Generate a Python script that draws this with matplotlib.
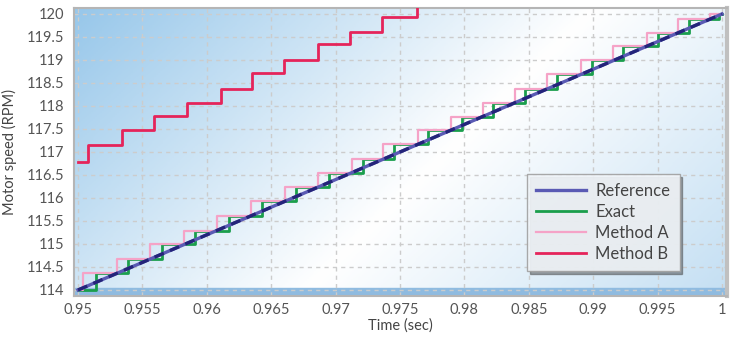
import numpy as np
import matplotlib
matplotlib.use("Agg")
import matplotlib.pyplot as plt
from matplotlib.colors import LinearSegmentedColormap
from matplotlib.patches import Rectangle

plt.rcParams['font.family'] = ['Lato', 'DejaVu Sans']

# Reference ramp
ref_t = [0.95, 1.0]
ref_v = [114.0, 120.0]

# Method A: sample-and-hold steps (step instants and held levels)
a_t = [0.95, 0.95039, 0.95303, 0.95559, 0.95823, 0.96079, 0.96343, 0.96607,
       0.96863, 0.97127, 0.97368, 0.97640, 0.97896, 0.98144, 0.98393,
       0.98641, 0.98905, 0.99154, 0.99418, 0.99658, 0.99907, 1.0]
a_v = [114.0, 114.36, 114.67, 114.99, 115.29, 115.61, 115.93, 116.24,
       116.55, 116.84, 117.17, 117.48, 117.77, 118.07, 118.37, 118.69,
       118.99, 119.30, 119.59, 119.89, 120.0, 120.0]

# Exact: same levels, switched slightly later
ex_t = [0.95, 0.9514, 0.9539, 0.9565, 0.9591, 0.9617, 0.9643, 0.9669,
        0.9695, 0.9721, 0.9745, 0.9772, 0.9798, 0.9822, 0.9847, 0.9872,
        0.9899, 0.9923, 0.9950, 0.9974, 0.9998, 1.0]
ex_v = [114.0, 114.36, 114.67, 114.99, 115.29, 115.61, 115.93, 116.24,
        116.55, 116.84, 117.17, 117.48, 117.77, 118.07, 118.37, 118.69,
        118.99, 119.30, 119.59, 119.89, 120.0, 120.0]

# Method B: offset steps
b_t = [0.95, 0.9508, 0.9534, 0.9559, 0.9585, 0.9611, 0.9635, 0.9660,
       0.9686, 0.9711, 0.9736, 0.9763]
b_v = [116.78, 117.15, 117.48, 117.78, 118.07, 118.37, 118.72, 119.0,
       119.35, 119.6, 119.93, 120.4]

xticks = [0.95, 0.955, 0.96, 0.965, 0.97, 0.975, 0.98, 0.985, 0.99, 0.995, 1.0]
xlabels = ['0.95', '0.955', '0.96', '0.965', '0.97', '0.975', '0.98', '0.985',
           '0.99', '0.995', '1']
yticks = [114, 114.5, 115, 115.5, 116, 116.5, 117, 117.5, 118, 118.5, 119, 119.5, 120]
ylabels = ['114', '114.5', '115', '115.5', '116', '116.5', '117', '117.5',
           '118', '118.5', '119', '119.5', '120']

W, H = 746, 338
fig = plt.figure(figsize=(W / 100, H / 100), dpi=100)
ax = fig.add_axes([74 / W, (H - 296) / H, (727 - 74) / W, (296 - 8) / H])

x0 = 0.95 - 4 / 12880
x1 = 1.0 + 5 / 12880
y0 = 114 - 6 / 46
y1 = 120 + 282 / 46 - 6
ax.set_xlim(x0, x1)
ax.set_ylim(y0, y1)

# background gradient
cmap = LinearSegmentedColormap.from_list(
    'bg', [(0.0, '#97c7ea'), (0.55, '#ffffff'), (1.0, '#c4dff3')])
u, v = np.meshgrid(np.linspace(0, 1, 300), np.linspace(1, 0, 150))
s = (u * 1.0 + (1 - v) * 0.45) / 1.45
ax.imshow(s, cmap=cmap, extent=[x0, x1, y0, y1], aspect='auto', zorder=0,
          vmin=0, vmax=1)
ax.add_patch(Rectangle((0, 0), 1, 8 / 288, transform=ax.transAxes,
                       color='#8fbbe0', zorder=0.5))

ax.set_xticks(xticks)
ax.set_xticklabels(xlabels)
ax.set_yticks(yticks)
ax.set_yticklabels(ylabels)
ax.tick_params(length=0, labelsize=10.5, labelcolor='#555555')
ax.tick_params(axis='y', pad=7)
ax.tick_params(axis='x', pad=5)
ax.grid(True, color='#cccccc', linestyle=(0, (3, 3)), linewidth=1.0, zorder=1)

ax.step(ex_t, ex_v, where='post', color='#1a9e4c', lw=2.0, zorder=3, label='Exact')
ax.step(a_t, a_v, where='post', color='#f5a3c7', lw=1.6, zorder=4, label='Method A')
ax.step(b_t, b_v, where='post', color='#e5245a', lw=2.0, zorder=4, label='Method B')
ax.plot(ref_t, ref_v, color='#5a5ab4', lw=2.4, zorder=5, label='Reference')
ax.plot(ref_t, ref_v, color='#24247a', lw=2.4, zorder=6, linestyle=(0, (3, 2)))

handles, labels = ax.get_legend_handles_labels()
order = [labels.index(n) for n in ['Reference', 'Exact', 'Method A', 'Method B']]
leg = ax.legend([handles[i] for i in order], [labels[i] for i in order],
                loc='upper left', bbox_to_anchor=(453 / 653, (296 - 174) / 288),
                prop={'size': 12}, frameon=True, fancybox=False, shadow=True,
                handlelength=3.0, handletextpad=0.55, labelspacing=0.3,
                borderpad=0.55, borderaxespad=0)
leg.get_frame().set_edgecolor('#a0a0a0')
leg.get_frame().set_facecolor('#f2f6fa')
leg.get_frame().set_alpha(0.9)
for t in leg.get_texts():
    t.set_color('#444444')
leg.set_zorder(10)

for side in ['top', 'left', 'bottom']:
    ax.spines[side].set_color('#b5b5b5')
    ax.spines[side].set_linewidth(1.5)
ax.spines['right'].set_color('#c0c0c0')
ax.spines['right'].set_linewidth(3)

ax.set_xlabel('Time (sec)', fontsize=10.5, color='#444444', labelpad=1)
ax.set_ylabel('Motor speed (RPM)', fontsize=10.5, color='#444444', labelpad=7)

fig.savefig('out.png', dpi=100)
